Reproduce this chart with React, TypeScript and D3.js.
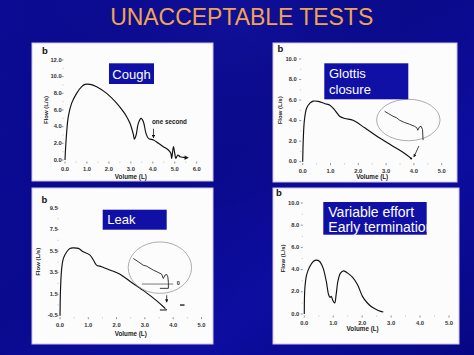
import React from 'react';
import * as d3 from 'd3';

// ---------- DATA ----------
const TITLE = 'UNACCEPTABLE TESTS';

// Panel 1: Cough
const COUGH_VOLUME = [0, 0.05, 0.15, 0.3, 0.53, 0.76, 0.91, 1.14, 1.44, 1.9, 2.36, 2.66, 2.81, 2.96, 3.12, 3.16, 3.24, 3.34, 3.47, 3.57, 3.69, 3.8, 4.03, 4.26, 4.48, 4.71, 4.82, 4.86, 4.94, 5.0, 5.05, 5.14, 5.24, 5.4, 5.55];
const COUGH_FLOW = [0, 2.4, 5.2, 6.8, 8.0, 8.8, 9.08, 9.08, 8.8, 8.0, 6.8, 5.8, 5.2, 4.4, 3.0, 2.5, 3.0, 4.4, 5.0, 4.6, 3.2, 2.6, 2.4, 2.0, 1.6, 1.2, 0.8, 0.2, 1.6, 0.8, 0.2, 0.6, 0.4, 0.32, 0.28];
const COUGH_X_TICKS = [0, 1, 2, 3, 4, 5, 6];
const COUGH_Y_TICKS = [0, 2, 4, 6, 8, 10, 12];
const COUGH_NOTE = 'one second';
const COUGH_NOTE_ARROW = [[4.03, 3.75], [4.03, 2.65]];

// Panel 2: Glottis closure
const GLOTTIS_VOLUME = [0, 0.02, 0.06, 0.14, 0.26, 0.38, 0.56, 0.8, 0.98, 1.16, 1.34, 1.52, 1.81, 2.23, 2.71, 3.19, 3.67, 3.9];
const GLOTTIS_FLOW = [0, 2.1, 4.0, 5.2, 5.7, 5.9, 5.87, 5.65, 5.5, 5.0, 4.4, 4.2, 4.03, 3.3, 2.4, 1.6, 0.8, 0.32];
const GLOTTIS_INSET_VOLUME = [2.95, 3.09, 3.25, 3.37, 3.49, 3.67, 3.84, 4.02, 4.1, 4.14, 4.2, 4.26, 4.31, 4.33];
const GLOTTIS_INSET_FLOW = [4.9, 4.68, 4.42, 4.29, 4.03, 3.81, 3.65, 3.45, 3.32, 3.06, 3.39, 3.45, 3.13, 2.1];
const GLOTTIS_ELLIPSE = { cx: 3.8, cy: 4.06, rx: 1.14, ry: 2.02 };
const GLOTTIS_ARROW = [[4.18, 1.53], [4.0, 0.46]];
const GLOTTIS_X_TICKS = [0, 1, 2, 3, 4, 5];
const GLOTTIS_Y_TICKS = [0, 2, 4, 6, 8, 10];

// Panel 3: Leak
const LEAK_VOLUME = [0, 0.02, 0.06, 0.12, 0.24, 0.35, 0.47, 0.65, 0.82, 1.06, 1.18, 1.29, 1.47, 1.76, 2.12, 2.47, 2.94, 3.41, 3.71];
const LEAK_FLOW = [-0.5, 2.05, 3.9, 4.82, 5.44, 5.75, 5.8, 5.75, 5.44, 5.13, 4.67, 4.2, 4.05, 3.75, 3.35, 2.7, 1.85, 0.9, 0.19];
const LEAK_TAIL = [[3.71, 0.19], [3.77, 0.03], [3.53, 0.03]];
const LEAK_INSET_VOLUME = [2.59, 2.77, 2.94, 3.06, 3.3, 3.47, 3.59, 3.65, 3.71, 3.77, 3.81, 3.83, 3.83, 3.53];
const LEAK_INSET_FLOW = [4.81, 4.5, 4.19, 4.1, 3.73, 3.52, 3.36, 2.96, 3.27, 3.33, 3.11, 2.6, 2.04, 2.04];
const LEAK_ELLIPSE = { cx: 3.53, cy: 3.96, rx: 1.12, ry: 2.39 };
const LEAK_ZERO_LINE = [[2.89, 2.44], [4.0, 2.44]];
const LEAK_ZERO_LABEL = { v: 4.18, f: 2.44, text: '0' };
const LEAK_ARROW = [[3.77, 1.4], [3.77, 0.75]];
const LEAK_DASH = [[4.24, 0.49], [4.4, 0.49]];
const LEAK_X_TICKS = [0, 1, 2, 3, 4, 5];
const LEAK_Y_TICKS = [-0.5, 1.5, 3.5, 5.5, 7.5, 9.5];

// Panel 4: Variable effort / early termination
const EFFORT_VOLUME = [0, 0.02, 0.08, 0.19, 0.31, 0.42, 0.53, 0.65, 0.76, 0.84, 0.89, 0.93, 0.99, 1.05, 1.1, 1.16, 1.25, 1.36, 1.5, 1.67, 1.84, 2.01, 2.18, 2.35, 2.52, 2.64, 2.73];
const EFFORT_FLOW = [0, 2.34, 3.53, 4.28, 4.73, 4.85, 4.73, 4.13, 2.93, 1.74, 1.5, 1.59, 1.2, 0.99, 1.74, 2.93, 3.68, 3.89, 3.68, 3.29, 2.63, 1.59, 0.99, 0.6, 0.36, 0.24, 0.18];
const EFFORT_X_TICKS = [0, 1, 2, 3, 4, 5];
const EFFORT_Y_TICKS = [0, 2, 4, 6, 8, 10];

const X_LABEL = 'Volume (L)';
const Y_LABEL = 'Flow (L/s)';

// ---------- LAYOUT ----------
const W = 474;
const H = 355;
const FONT = '"Liberation Sans", Arial, Helvetica, sans-serif';

type Pt = number[];
type PanelCfg = {
  id: string;
  box: [number, number, number, number];
  xDomain: [number, number];
  xRange: [number, number];
  yDomain: [number, number];
  yRange: [number, number];
  xTicks: number[];
  yTicks: number[];
  volume: number[];
  flow: number[];
  bPos: [number, number];
  yLabelX: number;
  xTickY: number;
  xLabelY: number;
  yTickRight: number;
  note: { x: number; y: number; w: number; h: number; lines: string[]; size: number; baselines: number[]; tx: number; center?: boolean };
};

const PANELS: PanelCfg[] = [
  {
    id: 'p1', box: [32, 43, 213, 181], xDomain: [0, 6], xRange: [65, 196.7], yDomain: [0, 12], yRange: [160, 60],
    xTicks: COUGH_X_TICKS, yTicks: COUGH_Y_TICKS, volume: COUGH_VOLUME, flow: COUGH_FLOW,
    bPos: [42, 54], yLabelX: 46, xTickY: 170.5, xLabelY: 178.5, yTickRight: 61.7,
    note: { x: 109, y: 63.3, w: 45, h: 20.7, lines: ['Cough'], size: 13, baselines: [79], tx: 131.5, center: true },
  },
  {
    id: 'p2', box: [273, 43, 457, 182], xDomain: [0, 5], xRange: [302.7, 441.7], yDomain: [0, 10], yRange: [161.7, 59],
    xTicks: GLOTTIS_X_TICKS, yTicks: GLOTTIS_Y_TICKS, volume: GLOTTIS_VOLUME, flow: GLOTTIS_FLOW,
    bPos: [277.5, 51.7], yLabelX: 280.5, xTickY: 173.3, xLabelY: 179.3, yTickRight: 296.7,
    note: { x: 324.3, y: 63.3, w: 84, h: 36, lines: ['Glottis', 'closure'], size: 13, baselines: [77.5, 93.5], tx: 329 },
  },
  {
    id: 'p3', box: [32, 188, 213, 344], xDomain: [0, 5], xRange: [60, 201.5], yDomain: [-0.5, 9.5], yRange: [315.7, 208],
    xTicks: LEAK_X_TICKS, yTicks: LEAK_Y_TICKS, volume: LEAK_VOLUME, flow: LEAK_FLOW,
    bPos: [41.5, 203], yLabelX: 38.5, xTickY: 327, xLabelY: 335.5, yTickRight: 57.7,
    note: { x: 102.7, y: 209.7, w: 64, h: 20, lines: ['Leak'], size: 13, baselines: [224.3], tx: 107.3 },
  },
  {
    id: 'p4', box: [273, 188, 459, 344], xDomain: [0, 5], xRange: [304.3, 449], yDomain: [0, 10], yRange: [314, 203],
    xTicks: EFFORT_X_TICKS, yTicks: EFFORT_Y_TICKS, volume: EFFORT_VOLUME, flow: EFFORT_FLOW,
    bPos: [276, 196.3], yLabelX: 283.5, xTickY: 324.6, xLabelY: 331, yTickRight: 299.3,
    note: { x: 323.3, y: 202, w: 103.4, h: 32.7, lines: ['Variable effort', 'Early termination'], size: 14, baselines: [216.5, 231.5], tx: 328.3 },
  },
];

function fmt(v: number) {
  return v.toFixed(1);
}

function Panel({ cfg, children }: { cfg: PanelCfg; children?: (x: any, y: any) => React.ReactNode }) {
  const x = d3.scaleLinear().domain(cfg.xDomain).range(cfg.xRange);
  const y = d3.scaleLinear().domain(cfg.yDomain).range(cfg.yRange);
  const [bx0, by0, bx1, by1] = cfg.box;
  const pts: [number, number][] = cfg.volume.map((v, i) => [v, cfg.flow[i]]);
  const line = d3.line<[number, number]>().x((d) => x(d[0])).y((d) => y(d[1])).curve(d3.curveCatmullRom.alpha(0.5));
  const y0 = y(cfg.yDomain[0]);
  const x0 = x(cfg.xDomain[0]);
  const xStep = cfg.xTicks[1] - cfg.xTicks[0];
  const yStep = cfg.yTicks[1] - cfg.yTicks[0];
  const xMinor = cfg.xTicks.slice(0, -1).map((t) => t + xStep / 2);
  const yMinor = cfg.yTicks.slice(0, -1).map((t) => t + yStep / 2);
  const n = cfg.note;
  const clipId = `clip-${cfg.id}`;
  return (
    <g>
      <rect x={bx0} y={by0} width={bx1 - bx0} height={by1 - by0} fill="#fcfcfc" stroke="#cfc2ec" strokeWidth={1} />
      <text x={cfg.bPos[0]} y={cfg.bPos[1]} fontFamily={FONT} fontWeight="bold" fontSize={9.5} fill="#111">b</text>
      {/* y ticks */}
      {cfg.yTicks.map((t) => (
        <g key={`yt${t}`}>
          <text x={cfg.yTickRight} y={y(t)} textAnchor="end" dominantBaseline="middle" fontFamily={FONT} fontWeight="bold" fontSize={5.8} fill="#333">{fmt(t)}</text>
          <line x1={x0 - 3.5} x2={x0 - 1.5} y1={y(t)} y2={y(t)} stroke="#777" strokeWidth={0.8} />
        </g>
      ))}
      {yMinor.map((t) => (
        <line key={`ym${t}`} x1={x0 - 2.5} x2={x0 - 1.5} y1={y(t)} y2={y(t)} stroke="#aaa" strokeWidth={0.7} />
      ))}
      {/* x ticks */}
      {cfg.xTicks.map((t) => (
        <g key={`xt${t}`}>
          <text x={x(t)} y={cfg.xTickY} textAnchor="middle" fontFamily={FONT} fontWeight="bold" fontSize={5.8} fill="#333">{fmt(t)}</text>
          <line x1={x(t)} x2={x(t)} y1={y0 + 1.5} y2={y0 + 3.5} stroke="#777" strokeWidth={0.8} />
        </g>
      ))}
      {xMinor.map((t) => (
        <line key={`xm${t}`} x1={x(t)} x2={x(t)} y1={y0 + 1.5} y2={y0 + 2.7} stroke="#aaa" strokeWidth={0.7} />
      ))}
      <text x={(cfg.xRange[0] + x(cfg.xTicks[cfg.xTicks.length - 1])) / 2 + (cfg.id === 'p4' ? -14 : 0)} y={cfg.xLabelY} textAnchor="middle" fontFamily={FONT} fontWeight="bold" fontSize={6.3} fill="#222">{X_LABEL}</text>
      <text transform={`translate(${cfg.yLabelX},${(cfg.yRange[0] + cfg.yRange[1]) / 2}) rotate(-90)`} textAnchor="middle" dominantBaseline="middle" fontFamily={FONT} fontWeight="bold" fontSize={6} fill="#222">{Y_LABEL}</text>
      {/* main curve */}
      <path d={line(pts) || ''} fill="none" stroke="#111" strokeWidth={1.15} strokeLinejoin="round" />
      {children ? children(x, y) : null}
      {/* note box */}
      <clipPath id={clipId}>
        <rect x={n.x} y={n.y} width={n.w} height={n.h} />
      </clipPath>
      <rect x={n.x} y={n.y} width={n.w} height={n.h} fill="#1010a6" />
      <g clipPath={`url(#${clipId})`}>
        {n.lines.map((l, i) => (
          <text key={l} x={n.tx} y={n.baselines[i]} textAnchor={n.center ? 'middle' : 'start'} fontFamily={FONT} fontSize={n.size} fill="#ffffff">{l}</text>
        ))}
      </g>
    </g>
  );
}

const lin = d3.line<number[]>();

export default function App() {
  const p = (x: any, y: any, arr: Pt[]) => lin.x((d) => x(d[0])).y((d) => y(d[1]))(arr) || '';
  return (
    <svg width={W} height={H} viewBox={`0 0 ${W} ${H}`} style={{ position: 'fixed', left: 0, top: 0, display: 'block' }}>
      <defs>
        <linearGradient id="bg" x1="0" y1="0" x2="1" y2="1">
          <stop offset="0" stopColor="#0c0c96" />
          <stop offset="0.45" stopColor="#0a0a8e" />
          <stop offset="0.7" stopColor="#0d0da0" />
          <stop offset="1" stopColor="#070784" />
        </linearGradient>
        <radialGradient id="glow" cx="0.5" cy="0.05" r="0.6">
          <stop offset="0" stopColor="#1a1aa8" stopOpacity="0.35" />
          <stop offset="1" stopColor="#000060" stopOpacity="0" />
        </radialGradient>
        <marker id="ah" viewBox="0 0 10 10" refX="9" refY="5" markerWidth="4" markerHeight="4" orient="auto">
          <path d="M0,0 L10,5 L0,10 z" fill="#111" />
        </marker>
      </defs>
      <rect x={0} y={0} width={W} height={H} fill="url(#bg)" />
      <rect x={0} y={0} width={W} height={H} fill="url(#glow)" />
      <text x={241.7} y={25} textAnchor="middle" fontFamily={FONT} fontSize={24} fill="#f0a44e" textLength={263} lengthAdjust="spacingAndGlyphs">{TITLE}</text>

      <Panel cfg={PANELS[0]}>
        {(x, y) => (
          <g>
            <text x={x(4.03) - 1.5} y={y(4.3)} fontFamily={FONT} fontWeight="bold" fontSize={6.3} fill="#222">{COUGH_NOTE}</text>
            <path d={p(x, y, COUGH_NOTE_ARROW)} stroke="#111" strokeWidth={0.8} fill="none" markerEnd="url(#ah)" />
            <path d={p(x, y, [[5.45, 0.5], [5.62, 0.28], [5.45, 0.06]])} fill="#111" stroke="#111" strokeWidth={0.5} />
          </g>
        )}
      </Panel>
      <Panel cfg={PANELS[1]}>
        {(x, y) => (
          <g>
            <ellipse cx={x(GLOTTIS_ELLIPSE.cx)} cy={y(GLOTTIS_ELLIPSE.cy)} rx={x(GLOTTIS_ELLIPSE.rx) - x(0)} ry={y(0) - y(GLOTTIS_ELLIPSE.ry)} fill="none" stroke="#999" strokeWidth={0.8} />
            <path d={p(x, y, GLOTTIS_INSET_VOLUME.map((v, i) => [v, GLOTTIS_INSET_FLOW[i]]))} fill="none" stroke="#222" strokeWidth={0.9} />
            <path d={p(x, y, GLOTTIS_ARROW)} stroke="#111" strokeWidth={0.8} fill="none" markerEnd="url(#ah)" />
            <circle cx={x(3.9)} cy={y(0.32)} r={1} fill="#111" />
          </g>
        )}
      </Panel>
      <Panel cfg={PANELS[2]}>
        {(x, y) => (
          <g>
            <path d={p(x, y, LEAK_TAIL)} fill="none" stroke="#111" strokeWidth={1} />
            <ellipse cx={x(LEAK_ELLIPSE.cx)} cy={y(LEAK_ELLIPSE.cy)} rx={x(LEAK_ELLIPSE.rx) - x(0)} ry={y(0) - y(LEAK_ELLIPSE.ry)} fill="none" stroke="#999" strokeWidth={0.8} />
            <path d={p(x, y, LEAK_INSET_VOLUME.map((v, i) => [v, LEAK_INSET_FLOW[i]]))} fill="none" stroke="#222" strokeWidth={0.9} />
            <path d={p(x, y, LEAK_ZERO_LINE)} fill="none" stroke="#444" strokeWidth={0.7} />
            <text x={x(LEAK_ZERO_LABEL.v)} y={y(LEAK_ZERO_LABEL.f)} textAnchor="middle" dominantBaseline="middle" fontFamily={FONT} fontWeight="bold" fontSize={5.5} fill="#222">{LEAK_ZERO_LABEL.text}</text>
            <path d={p(x, y, LEAK_ARROW)} stroke="#111" strokeWidth={0.8} fill="none" markerEnd="url(#ah)" />
            <path d={p(x, y, LEAK_DASH)} stroke="#111" strokeWidth={1.3} fill="none" />
          </g>
        )}
      </Panel>
      <Panel cfg={PANELS[3]} />
    </svg>
  );
}
